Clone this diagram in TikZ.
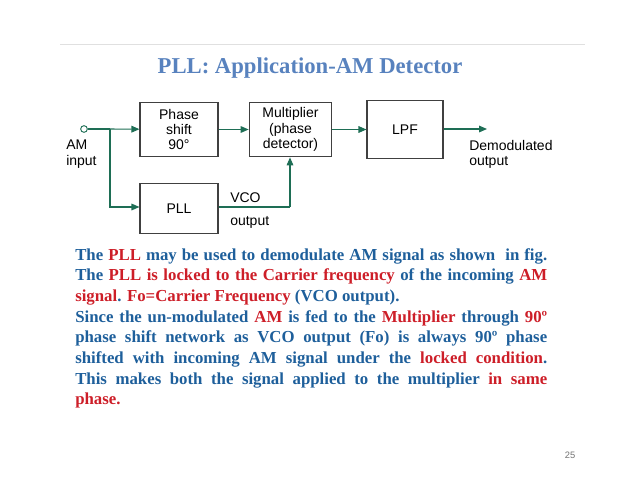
\documentclass[tikz,border=0pt]{standalone}
\usepackage{fontspec}
\setmainfont{Liberation Serif}
\newfontfamily\diag{Liberation Sans}
\usetikzlibrary{arrows.meta}
\definecolor{titleblue}{RGB}{88,130,190}
\definecolor{txtblue}{RGB}{30,95,155}
\definecolor{txtred}{RGB}{205,30,40}
\definecolor{sig}{RGB}{30,110,85}
\newcommand{\rd}[1]{\textcolor{txtred}{#1}}
\tikzset{
  blk/.style={draw=black!75,line width=0.8pt,font=\diag\fontsize{10.5}{11.5}\selectfont,align=center},
  lbl/.style={font=\diag\fontsize{10.5}{11.5}\selectfont,align=left,inner sep=0pt},
  wire/.style={draw=sig,line width=0.8pt,-{Triangle[length=6pt,width=5pt]}},
  line/.style={draw=sig,line width=0.8pt}
}
\begin{document}
\begin{tikzpicture}[x=0.75pt,y=-0.75pt]
\useasboundingbox (0,0) rectangle (638,478);
\draw[black!12,line width=0.6pt] (60,44) -- (585,44);
\node[font=\bfseries\fontsize{17}{20}\selectfont,text=titleblue] (title) at (310,68) {PLL: Application-AM Detector};
% blocks
\node[blk,minimum width=58.5pt,minimum height=41pt] (ps) at (179,129.5) {Phase\\shift\\90°};
\node[blk,minimum width=62pt,minimum height=41pt] (mul) at (290.5,129.5) {Multiplier\\(phase\\detector)};
\node[blk,minimum width=57pt,minimum height=43pt] (lpf) at (405,129.5) {LPF};
\node[blk,minimum width=58.5pt,minimum height=37pt] (pll) at (179,208.5) {PLL};
\node[draw=sig,circle,line width=0.7pt,inner sep=0pt,minimum size=5pt] (in) at (84,129) {};
\coordinate (br) at (110,129);
\coordinate (vc) at (290,207);
\coordinate (out) at (487,129);
\draw[line] (in) -- (br);
\draw[wire] (br) -- (ps);
\draw[wire] (br) |- (pll.west |- 0,207);
\draw[wire] (ps) -- (mul);
\draw[wire] (mul) -- (lpf);
\draw[wire] (lpf.east |- out) -- (out);
\draw[line] (pll.east |- vc) -- (vc);
\draw[wire] (vc) -- (mul.south -| vc);
% labels
\node[lbl,anchor=north west] (amin) at (66,140) {AM\\input};
\node[lbl,anchor=north west] (dem) at (469,140) {Demodulated\\output};
\node[lbl,anchor=west] (vco) at (230,198) {VCO};
\node[lbl,anchor=west] (vout) at (230,222) {output};
% text
\node[anchor=north west,inner sep=0pt,text=txtblue,font=\bfseries\fontsize{12.6}{15.5}\selectfont] (body) at (75,248) {\parbox{354pt}{\rightskip=0pt\parfillskip=0pt plus 1fil
The \rd{PLL} may be used to demodulate AM signal as shown~ in fig.\linebreak The \rd{PLL is locked to the Carrier frequency} of the incoming \rd{AM}\linebreak \rd{signal}. \rd{Fo=Carrier Frequency} (VCO output).\\
Since the un-modulated \rd{AM} is fed to the \rd{Multiplier} through \rd{90º}\linebreak phase shift network as VCO output (Fo) is always 90º phase\linebreak shifted with incoming AM signal under the \rd{locked condition}.\linebreak This makes both the signal applied to the multiplier \rd{in same}\linebreak \rd{phase.}}};
\node[font=\diag\fontsize{7}{8}\selectfont,text=black!55] (pg) at (570,455) {25};
\end{tikzpicture}
\end{document}
